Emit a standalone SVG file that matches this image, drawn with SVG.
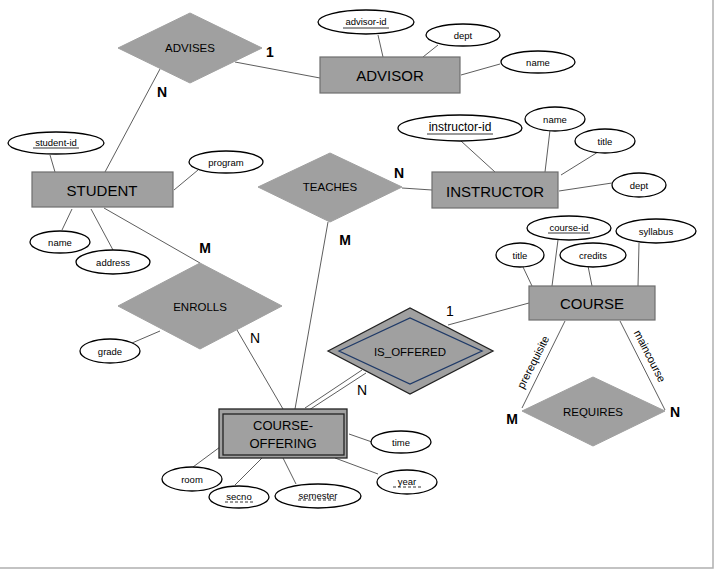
<svg xmlns="http://www.w3.org/2000/svg" width="717" height="576" viewBox="0 0 717 576">
<style>
text{font-family:"Liberation Sans",Arial,sans-serif;fill:#000;text-anchor:middle;dominant-baseline:central}
.ent{fill:#a0a0a0;stroke:#6e6e6e;stroke-width:1.2}
.rel{fill:#a0a0a0;stroke:#a0a0a0}
.att{fill:#fff;stroke:#000;stroke-width:1.3}
.ln{stroke:#333;stroke-width:0.8;fill:none}
.big{font-size:15px}
.mid{font-size:11.5px}
.sm{font-size:9.5px}
.card{font-size:14px;font-weight:bold}
.ul{stroke:#000;stroke-width:0.8}
.dul{stroke:#000;stroke-width:0.8;stroke-dasharray:3,2}
</style>
<rect x="0" y="0" width="717" height="576" fill="#fff"/>
<path d="M713 0V568H0" stroke="#b0b0b0" stroke-width="1.5" fill="none"/>
<g id="connectors">
<line class="ln" x1="235" y1="62" x2="320" y2="78"/>
<line class="ln" x1="378" y1="35" x2="383" y2="57"/>
<line class="ln" x1="438" y1="45" x2="423" y2="57"/>
<line class="ln" x1="500" y1="64" x2="461" y2="75"/>
<line class="ln" x1="160" y1="69" x2="105" y2="172"/>
<line class="ln" x1="50" y1="155" x2="55" y2="172"/>
<line class="ln" x1="198" y1="170" x2="174" y2="190"/>
<line class="ln" x1="72" y1="209" x2="62" y2="230"/>
<line class="ln" x1="91" y1="209" x2="113" y2="250"/>
<line class="ln" x1="104" y1="208" x2="200" y2="263"/>
<line class="ln" x1="132" y1="343" x2="160" y2="331"/>
<line class="ln" x1="237" y1="330" x2="283" y2="409"/>
<line class="ln" x1="402" y1="188" x2="432" y2="190"/>
<line class="ln" x1="461" y1="141" x2="495" y2="172"/>
<line class="ln" x1="550" y1="130" x2="545" y2="172"/>
<line class="ln" x1="598" y1="152" x2="561" y2="175"/>
<line class="ln" x1="612" y1="183" x2="559" y2="191"/>
<line class="ln" x1="328" y1="222" x2="295" y2="409"/>
<line class="ln" x1="523" y1="267" x2="532" y2="286"/>
<line class="ln" x1="558" y1="240" x2="552" y2="286"/>
<line class="ln" x1="588" y1="266" x2="592" y2="286"/>
<line class="ln" x1="639" y1="243" x2="638" y2="286"/>
<line class="ln" x1="529" y1="303" x2="448" y2="325"/>
<line class="ln" x1="305" y1="408" x2="362" y2="370"/>
<line class="ln" x1="309" y1="410" x2="366" y2="373"/>
<line class="ln" x1="349" y1="434" x2="372" y2="442"/>
<line class="ln" x1="335" y1="458" x2="378" y2="474"/>
<line class="ln" x1="193" y1="467" x2="220" y2="447"/>
<line class="ln" x1="235" y1="485" x2="262" y2="458"/>
<line class="ln" x1="296" y1="484" x2="283" y2="458"/>
<line class="ln" x1="565" y1="321" x2="522" y2="408"/>
<line class="ln" x1="620" y1="321" x2="665" y2="410"/>
<text class="card" x="270" y="52">1</text>
<text class="card" x="162" y="92">N</text>
<text class="card" x="205" y="248">M</text>
<text x="255" y="338" style="font-size:14px">N</text>
<text class="card" x="399" y="173">N</text>
<text class="card" x="345" y="240">M</text>
<text x="450" y="311" style="font-size:14px">1</text>
<text x="362" y="390" style="font-size:14px">N</text>
<text class="card" x="512" y="419">M</text>
<text class="card" x="675" y="412">N</text>
<text class="sm" x="533" y="362" transform="rotate(-63 533 362)" style="font-size:11px">prerequisite</text>
<text class="sm" x="650" y="356" transform="rotate(63 650 356)" style="font-size:11px">maincourse</text>
</g>
<g id="advises"><polygon class="rel" points="118,48 190,13 262,48 190,83"/><text class="mid" x="190" y="48">ADVISES</text></g>
<g id="advisor"><rect class="ent" x="320" y="57" width="140" height="36"/><text class="big" x="390" y="75">ADVISOR</text></g>
<g id="advisor-id"><ellipse class="att" cx="366" cy="22" rx="48" ry="12"/><text class="sm" x="366" y="21">advisor-id</text><line class="ul" x1="343" y1="28" x2="389" y2="28"/></g>
<g id="advisor-dept"><ellipse class="att" cx="463" cy="35" rx="37" ry="11"/><text class="sm" x="463" y="35">dept</text></g>
<g id="advisor-name"><ellipse class="att" cx="538" cy="62" rx="37" ry="11"/><text class="sm" x="538" y="62">name</text></g>
<g id="student"><rect class="ent" x="32" y="172" width="141" height="35"/><text class="big" x="102" y="190">STUDENT</text></g>
<g id="student-id"><ellipse class="att" cx="56" cy="143" rx="48" ry="11"/><text class="sm" x="56" y="142">student-id</text><line class="ul" x1="33" y1="148" x2="79" y2="148"/></g>
<g id="program"><ellipse class="att" cx="226" cy="162" rx="37" ry="11"/><text class="sm" x="226" y="162">program</text></g>
<g id="student-name"><ellipse class="att" cx="60" cy="242" rx="30" ry="11"/><text class="sm" x="60" y="242">name</text></g>
<g id="address"><ellipse class="att" cx="113" cy="262" rx="37" ry="12"/><text class="sm" x="113" y="262">address</text></g>
<g id="enrolls"><polygon class="rel" points="118,306 200,263 282,306 200,349" stroke="#888"/><text class="mid" x="200" y="307">ENROLLS</text></g>
<g id="grade"><ellipse class="att" cx="110" cy="351" rx="30" ry="12"/><text class="sm" x="110" y="351">grade</text></g>
<g id="teaches"><polygon class="rel" points="258,187 330,153 402,187 330,222"/><text class="mid" x="330" y="187">TEACHES</text></g>
<g id="instructor"><rect class="ent" x="432" y="172" width="126" height="36"/><text class="big" x="495" y="191">INSTRUCTOR</text></g>
<g id="instructor-id"><ellipse class="att" cx="460" cy="128" rx="62" ry="13"/><text x="460" y="127" style="font-size:12px">instructor-id</text><line class="ul" x1="427" y1="134" x2="493" y2="134"/></g>
<g id="instructor-name"><ellipse class="att" cx="555" cy="119" rx="30" ry="12"/><text class="sm" x="555" y="119">name</text></g>
<g id="instructor-title"><ellipse class="att" cx="605" cy="141" rx="30" ry="12"/><text class="sm" x="605" y="141">title</text></g>
<g id="instructor-dept"><ellipse class="att" cx="639" cy="185" rx="27" ry="12"/><text class="sm" x="639" y="185">dept</text></g>
<g id="course"><rect class="ent" x="529" y="286" width="126" height="34"/><text class="big" x="592" y="303">COURSE</text></g>
<g id="course-id"><ellipse class="att" cx="569" cy="228" rx="42" ry="12"/><text class="sm" x="569" y="227">course-id</text><line class="ul" x1="548" y1="233" x2="590" y2="233"/></g>
<g id="syllabus"><ellipse class="att" cx="656" cy="231" rx="40" ry="12"/><text class="sm" x="656" y="231">syllabus</text></g>
<g id="course-title"><ellipse class="att" cx="520" cy="255" rx="24" ry="12"/><text class="sm" x="520" y="255">title</text></g>
<g id="credits"><ellipse class="att" cx="593" cy="255" rx="33" ry="12"/><text class="sm" x="593" y="255">credits</text></g>
<g id="is-offered"><polygon points="328,351 410,308 493,351 410,394" fill="#a0a0a0" stroke="#222" stroke-width="1.3"/><polygon points="339,351 410,318 482,351 410,384" fill="none" stroke="#1f3a68" stroke-width="1.3"/><text class="mid" x="410" y="352">IS_OFFERED</text></g>
<g id="requires"><polygon class="rel" points="522,411 593,377 665,411 593,446"/><text class="mid" x="593" y="412">REQUIRES</text></g>
<g id="course-offering"><rect x="219" y="409" width="128" height="49" fill="#a0a0a0" stroke="#222" stroke-width="1.3"/><rect x="223" y="414" width="121" height="41" fill="none" stroke="#222" stroke-width="1.3"/><text x="283" y="425" style="font-size:13px">COURSE-</text><text x="283" y="443" style="font-size:13px">OFFERING</text></g>
<g id="time"><ellipse class="att" cx="401" cy="442" rx="30" ry="11"/><text class="sm" x="401" y="442">time</text></g>
<g id="year"><ellipse class="att" cx="407" cy="482" rx="30" ry="12"/><text class="sm" x="407" y="481">year</text><line class="dul" x1="393" y1="487" x2="421" y2="487"/></g>
<g id="room"><ellipse class="att" cx="192" cy="479" rx="30" ry="12"/><text class="sm" x="192" y="479">room</text></g>
<g id="secno"><ellipse class="att" cx="239" cy="497" rx="30" ry="11"/><text class="sm" x="239" y="496">secno</text><line class="dul" x1="225" y1="502" x2="253" y2="502"/></g>
<g id="semester"><ellipse class="att" cx="318" cy="496" rx="43" ry="12"/><text class="sm" x="318" y="495">semester</text><line class="dul" x1="298" y1="500" x2="338" y2="500"/></g>
</svg>
